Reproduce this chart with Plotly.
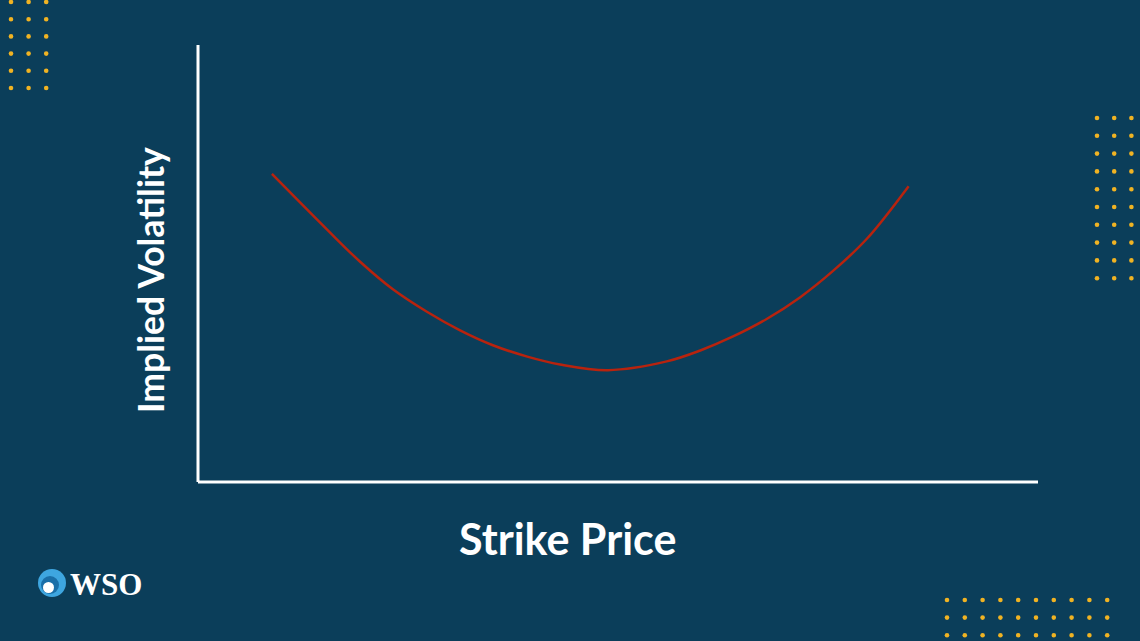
import plotly.graph_objects as go

# Data (arbitrary units)
strike = [8.8, 15.4, 19.3, 23.2, 27.3, 31.2, 35.1, 39.2, 43.1, 48.8,
          55.8, 59.8, 63.7, 67.7, 71.7, 75.6, 79.6, 84.6]
implied_vol = [70.5, 57.7, 50.4, 44.1, 38.9, 34.7, 31.3, 28.7, 26.9, 25.6,
               27.6, 30.1, 33.3, 37.3, 42.3, 48.3, 55.6, 67.7]
x_title = "Strike Price"
y_title = "Implied Volatility"
logo_text = "WSO"

BG = "#0b3e5a"
RED = "#b8230e"
DOT = "#f0b323"
W, H = 1140, 641
L, R, T, B = 198, 1038, 45, 482  # plot area in pixels


def px_to_paper(px, py):
    return (px - L) / (R - L), (B - py) / (B - T)


fig = go.Figure()
fig.add_trace(go.Scatter(
    x=strike, y=implied_vol, mode="lines",
    line=dict(color=RED, width=2.5, shape="spline", smoothing=1.0),
    hoverinfo="skip", showlegend=False,
))

shapes = []
# axis lines
shapes.append(dict(type="line", xref="paper", yref="paper", x0=0, x1=0, y0=0, y1=1,
                   line=dict(color="white", width=3)))
shapes.append(dict(type="line", xref="paper", yref="paper", x0=0, x1=1, y0=0, y1=0,
                   line=dict(color="white", width=3)))


def dot_grid(xs, ys):
    for yy in ys:
        for xx in xs:
            ax, ay = px_to_paper(xx, yy)
            shapes.append(dict(type="circle", xref="paper", yref="paper",
                               xsizemode="pixel", ysizemode="pixel",
                               xanchor=ax, yanchor=ay, x0=-2.3, x1=2.3, y0=-2.3, y1=2.3,
                               fillcolor=DOT, line=dict(width=0), layer="below"))


dot_grid([11 + 17.6 * i for i in range(3)], [2 + 17.2 * j for j in range(6)])
dot_grid([1097 + 17.2 * i for i in range(3)], [118 + 17.8 * j for j in range(10)])
dot_grid([947 + 17.8 * i for i in range(10)], [600 + 17.6 * j for j in range(3)])

# logo icon
cx, cy = px_to_paper(52, 583)
shapes.append(dict(type="circle", xref="paper", yref="paper", xsizemode="pixel",
                   ysizemode="pixel", xanchor=cx, yanchor=cy, x0=-14, x1=14, y0=-14, y1=14,
                   fillcolor="#3ea6e0", line=dict(width=0)))
shapes.append(dict(type="circle", xref="paper", yref="paper", xsizemode="pixel",
                   ysizemode="pixel", xanchor=cx, yanchor=cy, x0=-11, x1=7, y0=-11, y1=7,
                   fillcolor="#1a6fa8", line=dict(width=0)))
shapes.append(dict(type="circle", xref="paper", yref="paper", xsizemode="pixel",
                   ysizemode="pixel", xanchor=cx, yanchor=cy, x0=-9, x1=2, y0=-10, y1=1,
                   fillcolor="white", line=dict(width=0)))

annotations = []
ax_, ay_ = px_to_paper(567, 538)
annotations.append(dict(text=x_title, xref="paper", yref="paper", x=ax_, y=ay_,
                        showarrow=False, xanchor="center", yanchor="middle",
                        font=dict(family="Lato", size=43, color="white", weight="bold")))
ax_, ay_ = px_to_paper(150, 280)
annotations.append(dict(text=y_title, xref="paper", yref="paper", x=ax_, y=ay_,
                        showarrow=False, xanchor="center", yanchor="middle", textangle=-90,
                        font=dict(family="Lato", size=35.5, color="white", weight="bold")))
ax_, ay_ = px_to_paper(68, 584)
annotations.append(dict(text=logo_text, xref="paper", yref="paper", x=ax_, y=ay_,
                        showarrow=False, xanchor="left", yanchor="middle",
                        font=dict(family="Liberation Serif", size=31, color="white", weight="bold")))

fig.update_layout(
    width=W, height=H,
    margin=dict(l=L, r=W - R, t=T, b=H - B, pad=0),
    paper_bgcolor=BG, plot_bgcolor=BG,
    xaxis=dict(range=[0, 100], visible=False, fixedrange=True),
    yaxis=dict(range=[0, 100], visible=False, fixedrange=True),
    shapes=shapes, annotations=annotations, showlegend=False,
)

fig.write_html("out.html", config={"displayModeBar": False},
               post_script="document.body.style.margin='0';document.body.style.overflow='hidden';document.body.style.background='" + BG + "';")
